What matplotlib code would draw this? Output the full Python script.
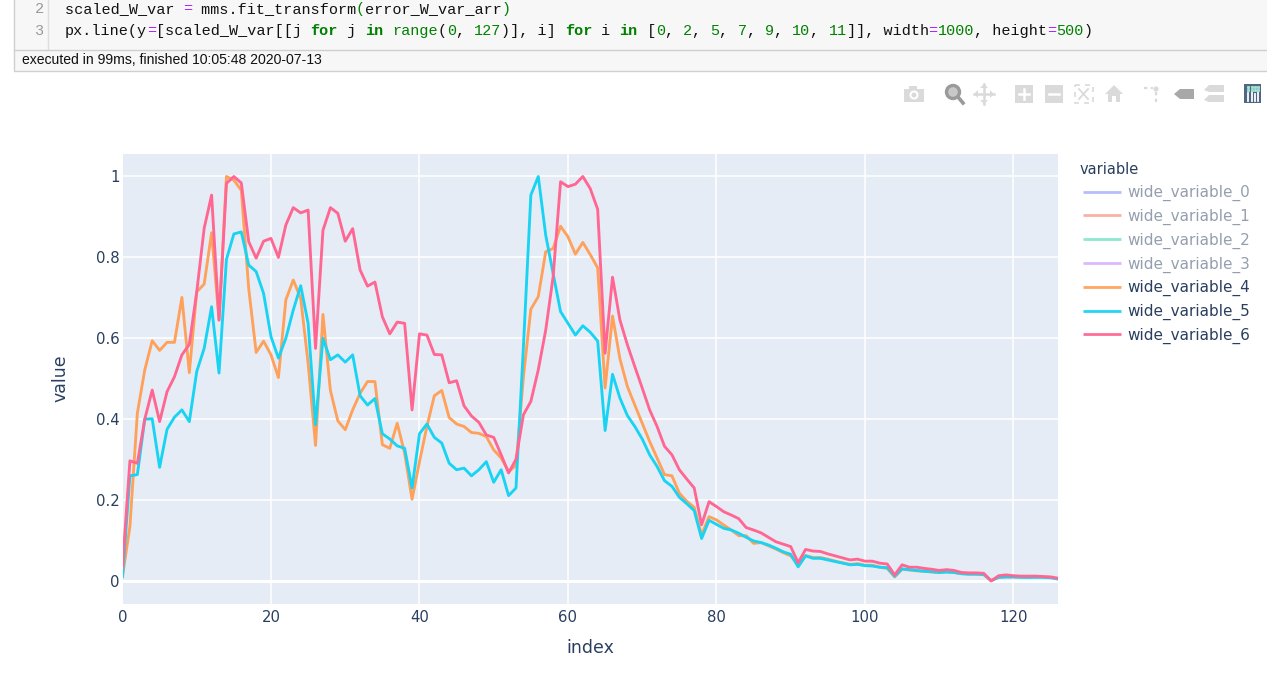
import matplotlib
matplotlib.use("Agg")
import matplotlib.pyplot as plt
from matplotlib.patches import Rectangle, Circle, Polygon
from matplotlib.lines import Line2D

variable_4 = [.012,.135,.415,.522,.594,.570,.590,.590,.701,.515,.715,.734,.861,.645,1.0,.991,.966,.723,.565,.593,
 .559,.503,.695,.744,.699,.538,.335,.659,.471,.396,.374,.423,.464,.493,.493,.337,.328,.390,.316,.202,
 .295,.382,.458,.471,.404,.388,.382,.367,.365,.357,.324,.304,.271,.285,.505,.672,.703,.814,.822,.877,
 .851,.808,.837,.807,.774,.477,.655,.549,.481,.435,.390,.345,.304,.263,.260,.217,.197,.182,.114,.159,
 .151,.138,.126,.112,.112,.093,.095,.087,.079,.070,.062,.040,.063,.058,.058,.054,.049,.045,.041,.043,
 .039,.039,.034,.031,.010,.029,.027,.025,.024,.022,.021,.023,.021,.018,.017,.017,.016,.001,.009,.010,
 .010,.010,.009,.011,.010,.009,.005]
variable_5 = [.010,.260,.263,.400,.401,.281,.375,.405,.423,.394,.518,.575,.678,.514,.795,.858,.863,.781,.765,.711,
 .604,.551,.600,.670,.730,.637,.386,.600,.547,.559,.541,.559,.458,.435,.451,.364,.351,.334,.328,.230,
 .364,.388,.355,.341,.291,.275,.279,.260,.275,.295,.244,.275,.211,.230,.580,.954,1.0,.855,.760,.666,
 .637,.608,.631,.615,.593,.372,.511,.452,.409,.382,.351,.312,.283,.248,.234,.207,.191,.174,.105,.150,
 .140,.130,.126,.118,.108,.099,.095,.089,.081,.072,.066,.035,.062,.056,.056,.052,.048,.044,.040,.041,
 .038,.037,.034,.033,.012,.030,.028,.026,.024,.023,.021,.022,.021,.018,.017,.017,.016,.001,.009,.010,
 .010,.009,.009,.009,.009,.008,.005]
variable_6 = [.035,.297,.291,.400,.472,.394,.468,.505,.559,.585,.715,.872,.954,.645,.983,1.0,.984,.839,.798,.840,
 .847,.800,.880,.923,.910,.917,.575,.867,.923,.909,.840,.871,.769,.729,.739,.653,.611,.640,.637,.423,
 .611,.608,.560,.559,.490,.495,.433,.408,.392,.361,.355,.312,.267,.301,.411,.444,.522,.620,.752,.987,
 .975,.981,1.0,.970,.919,.563,.751,.645,.584,.530,.477,.423,.382,.333,.312,.275,.252,.230,.139,.196,
 .184,.171,.163,.154,.132,.126,.119,.108,.097,.091,.085,.045,.078,.074,.073,.067,.062,.057,.052,.054,
 .049,.049,.044,.042,.015,.040,.034,.034,.031,.029,.026,.028,.026,.021,.020,.020,.019,0.0,.013,.015,
 .013,.012,.012,.012,.011,.010,.007]
series = [variable_4, variable_5, variable_6]
series_colors = ["#FFA15A", "#19D3F3", "#FF6692"]
legend_labels = ["wide_variable_0","wide_variable_1","wide_variable_2","wide_variable_3",
                 "wide_variable_4","wide_variable_5","wide_variable_6"]
legend_colors = ["#636EFA","#EF553B","#00CC96","#AB63FA","#FFA15A","#19D3F3","#FF6692"]
legend_visible = [False,False,False,False,True,True,True]
xticks = [0,20,40,60,80,100,120]
yticks = [0,0.2,0.4,0.6,0.8,1]
ytick_labels = ["0","0.2","0.4","0.6","0.8","1"]

K, P, G, B = "#111111", "#AA22FF", "#008000", "#008000"
code_2 = [("scaled_W_var ",K),("=",P),(" mms.fit_transform",K),("(",G),("error_W_var_arr",K),(")",G)]
code_3 = [("px.line(y",K),("=",P),("[scaled_W_var[[j ",K),("for",B),(" j ",K),("in",B),(" ",K),("range",G),("(",K),
          ("0",G),(", ",K),("127",G),(")], i] ",K),("for",B),(" i ",K),("in",B),(" [",K),("0",G),(", ",K),("2",G),(", ",K),
          ("5",G),(", ",K),("7",G),(", ",K),("9",G),(", ",K),("10",G),(", ",K),("11",G),("]], width",K),("=",P),("1000",G),
          (", height",K),("=",P),("500",G),(")",K)]
status = "executed in 99ms, finished 10:05:48 2020-07-13"

W, H = 1267, 690
fig = plt.figure(figsize=(W/100, H/100), dpi=100, facecolor="white")
# pixel-coordinate overlay for the notebook chrome and legend
ov = fig.add_axes([0,0,1,1], zorder=0)
ov.set_xlim(0,W); ov.set_ylim(H,0); ov.axis("off")

ov.add_patch(Rectangle((14,-2),W,73,fc="#F7F7F7",ec="#CFCFCF",lw=1))
ov.plot([14,W],[49.5,49.5],color="#CFCFCF",lw=1)
ov.plot([48,48],[0,49],color="#DDDDDD",lw=1)
ov.text(44,9,"2",ha="right",va="center",family="Liberation Mono",fontsize=10.9,color="#999999")
ov.text(44,31,"3",ha="right",va="center",family="Liberation Mono",fontsize=10.9,color="#999999")
def code(tokens,y):
    k=0
    for t,c in tokens:
        ov.text(65+9.09*k,y,t,ha="left",va="center",family="Liberation Mono",fontsize=10.9,color=c,
                fontweight="bold" if t in ("for","in") else "normal")
        k+=len(t)
code(code_2,9.5); code(code_3,31)
ov.text(22,60.5,status,ha="left",va="center",family="Liberation Sans",fontsize=10.05,color="#111111")

# toolbar icons
g="#DADADA"
ov.add_patch(Rectangle((904,89),20,13,fc=g,ec="none"))
ov.add_patch(Rectangle((909,86),8,4,fc=g,ec="none"))
ov.add_patch(Circle((914,95),4.5,fc="white",ec="none"))
ov.add_patch(Circle((914,95),2.5,fc=g,ec="none"))
d="#9A9A9A"
ov.add_patch(Circle((953,92),6.5,fc="#C8C8C8",ec=d,lw=2.4))
ov.plot([958,963],[97,103],color=d,lw=2.6)
ov.plot([974,994],[94,94],color=g,lw=1.8); ov.plot([984,984],[84,104],color=g,lw=1.8)
for p in ([(974,94),(978,90),(978,98)],[(994,94),(990,90),(990,98)],[(984,84),(980,88),(988,88)],[(984,104),(980,100),(988,100)]):
    ov.add_patch(Polygon(p,fc=g,ec="none"))
ov.add_patch(Rectangle((1015,85),18,18,fc=g,ec="none"))
ov.plot([1019,1029],[94,94],color="white",lw=1.8); ov.plot([1024,1024],[89,99],color="white",lw=1.8)
ov.add_patch(Rectangle((1045,85),18,18,fc=g,ec="none"))
ov.plot([1049,1059],[94,94],color="white",lw=1.8)
ov.add_patch(Rectangle((1074.5,85),18,18,fc="none",ec=g,lw=1.2,ls=(0,(3,3))))
ov.plot([1079,1088],[89,99],color=g,lw=1.3); ov.plot([1079,1088],[99,89],color=g,lw=1.3)
ov.add_patch(Polygon([(1105,94),(1114,85),(1123,94),(1120,94),(1120,102),(1116,102),(1116,96),(1112,96),(1112,102),(1108,102),(1108,94)],fc=g,ec="none"))
ov.plot([1144,1153],[88,88],color=g,lw=1.6,ls=(0,(1.5,1.5))); ov.plot([1156,1156],[92,103],color=g,lw=1.6,ls=(0,(1.5,1.5)))
ov.add_patch(Circle((1156,89),2.6,fc=g,ec="none"))
ov.add_patch(Polygon([(1174,94),(1180,89),(1194,89),(1194,99),(1180,99)],fc="#A8A8A8",ec="none"))
ov.add_patch(Polygon([(1204,90),(1209,85),(1224,85),(1224,92),(1209,92)],fc=g,ec="none"))
ov.add_patch(Polygon([(1204,100),(1209,95),(1224,95),(1224,102),(1209,102)],fc=g,ec="none"))
ov.add_patch(Rectangle((1244,84),17,19,fc="#506784",ec="none"))
for bx,top in zip((1248,1251.5,1255,1258),(93,91,94,92)):
    ov.plot([bx,bx],[top,101],color="white",lw=1.3)
for bx in (1248,1251.5,1255,1258):
    ov.plot([bx],[87],"s",ms=1.2,color="#9FE0D0")
    ov.plot([bx],[90],"s",ms=1.2,color="#9FE0D0")

# legend
ink="#2a3f5f"
ov.text(1080,169,"variable",ha="left",va="center",fontsize=10.5,color=ink)
for i,(lab,col,vis) in enumerate(zip(legend_labels,legend_colors,legend_visible)):
    y=191.5+23.8*i
    a=1 if vis else 0.5
    ov.add_line(Line2D([1083,1121],[y,y],color=col,lw=2.0,alpha=0.95 if vis else 0.45,solid_capstyle="butt"))
    ov.text(1127,y+1.5,lab,ha="left",va="center",fontsize=11,color=ink,alpha=a)

# plot
L,R,T,Bt = 122.5,1058,154,604
ax = fig.add_axes([L/W,1-Bt/H,(R-L)/W,(Bt-T)/H], zorder=1, facecolor="#E5ECF6")
for s in ax.spines.values(): s.set_visible(False)
for x in xticks[1:]:
    ax.axvline(x,color="white",lw=1.1,zorder=1)
for y in yticks[1:]:
    ax.axhline(y,color="white",lw=1.1,zorder=1)
ax.axhline(0,color="white",lw=2.1,zorder=1.5)
for vals,c in zip(series,series_colors):
    ax.plot(range(len(vals)),vals,color=c,lw=2.05,solid_joinstyle="round",zorder=2)
ax.set_xlim(0,126)
ax.set_ylim(-0.0569,1.0556)
ax.set_xticks(xticks); ax.set_yticks(yticks); ax.set_yticklabels(ytick_labels)
ax.tick_params(length=0,colors=ink,labelsize=10.7)
ax.tick_params(axis="x",pad=4.5)
ax.tick_params(axis="y",pad=2)
fig.text(590/W,1-648/H,"index",ha="center",va="center",fontsize=12.5,color=ink)
fig.text(60/W,1-378/H,"value",ha="center",va="center",rotation=90,fontsize=12.5,color=ink)

fig.savefig("out.png",dpi=100)
